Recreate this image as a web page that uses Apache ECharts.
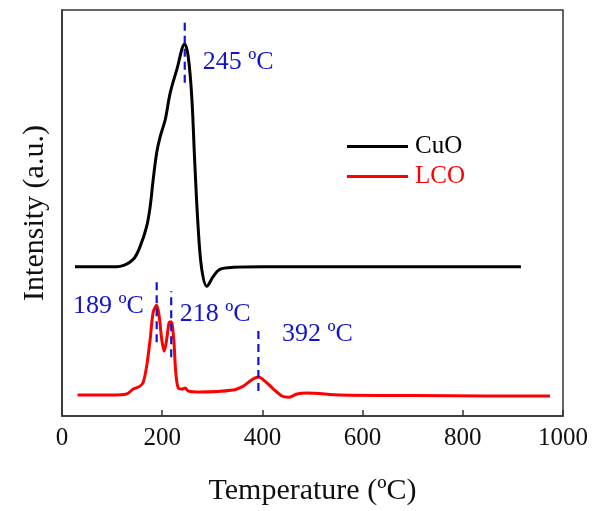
<!DOCTYPE html>
<html>
<head>
<meta charset="utf-8">
<script src="https://cdn.jsdelivr.net/npm/echarts@6/dist/echarts.min.js"></script>
<style>
html,body{margin:0;padding:0;background:#fff;}
#chart{width:599px;height:511px;}
</style>
</head>
<body>
<div id="chart"></div>
<script>
// CuO profile: [temperature (ºC), intensity (a.u.)]
const cuoTemp = [26, 100, 116, 142, 156, 169, 176, 182, 189, 196, 206, 216, 229, 245, 252, 259, 265, 272, 279, 289, 302, 315, 342, 400, 600, 800, 916];
const cuoVal  = [149.5, 149.5, 150, 157, 170, 190, 210, 237, 264, 280, 297, 324, 347, 373, 360, 320, 254, 187, 147, 130, 140, 147, 149, 149.5, 149.5, 149.5, 149.5];

// LCO profile
const lcoTemp = [31, 100, 129, 142, 155, 162, 169, 176, 182, 189, 194, 199, 204, 209, 214, 218, 223, 227, 232, 239, 246, 252, 275, 341, 362, 378, 392, 405, 422, 439, 452, 469, 489, 555, 700, 850, 974];
const lcoVal  = [21, 21, 22, 27, 29.7, 33.7, 50, 77, 104, 111, 100, 77, 65, 77, 94, 94.5, 77, 44, 28, 27, 28, 25, 24, 26, 30, 36, 39, 35, 27, 20, 18.7, 22, 23, 21, 20.5, 20, 20];

// Peak annotations
const peakTemps   = [245, 189, 218, 392];
const peakTop     = [399, 138, 125, 90];
const peakBottom  = [334, 74, 59, 25];
const peakLabels  = ['245 ºC', '189 ºC', '218 ºC', '392 ºC'];
const labelTemp   = [281, 22, 235, 439];
const labelVal    = [355, 110, 102, 82];

const xTicks = [0, 200, 400, 600, 800, 1000];

const FONT = "'Liberation Serif', 'Times New Roman', serif";
const BLUE = '#1414cc';

const zip = (a, b) => a.map((v, i) => [v, b[i]]);

const series = [
  {
    name: 'CuO', type: 'line', data: zip(cuoTemp, cuoVal), smooth: 0.35,
    showSymbol: false, lineStyle: { color: '#000', width: 3 }, itemStyle: { color: '#000' }, z: 3
  },
  {
    name: 'LCO', type: 'line', data: zip(lcoTemp, lcoVal), smooth: 0.3,
    showSymbol: false, lineStyle: { color: '#ff0000', width: 3 }, itemStyle: { color: '#ff0000' }, z: 3
  }
];

peakTemps.forEach((t, i) => {
  series.push({
    name: 'peak' + i, type: 'line', data: [[t, peakBottom[i]], [t, peakTop[i]]],
    showSymbol: false, silent: true,
    lineStyle: { color: BLUE, width: 2.2, type: [8, 5], opacity: 1 }, z: 4
  });
});

series.push({
  name: 'labels', type: 'scatter', symbolSize: 0, silent: true,
  itemStyle: { opacity: 1, color: BLUE },
  data: labelTemp.map((t, i) => ({ value: [t, labelVal[i]], label: { formatter: peakLabels[i] } })),
  label: {
    show: true, position: 'right', distance: 0, opacity: 1,
    color: BLUE, fontFamily: FONT, fontSize: 26
  }
});

const chart = echarts.init(document.getElementById('chart'));
chart.setOption({
  animation: false,
  backgroundColor: '#fff',
  grid: { left: 62, right: 36, top: 10, bottom: 94, show: true, borderColor: '#333', borderWidth: 1.5 },
  legend: {
    data: [
      { name: 'CuO', textStyle: { color: '#000' } },
      { name: 'LCO', textStyle: { color: '#ff0000' } }
    ],
    orient: 'vertical', left: 342, top: 129,
    icon: 'rect', itemWidth: 61, itemHeight: 3, itemGap: 5,
    textStyle: { fontFamily: FONT, fontSize: 25, lineHeight: 25, padding: [0, 0, 0, 2] }
  },
  xAxis: {
    type: 'value', min: 0, max: 1000, interval: 200,
    name: 'Temperature (ºC)', nameLocation: 'middle', nameGap: 60,
    nameTextStyle: { fontFamily: FONT, fontSize: 30, color: '#111' },
    axisLine: { show: true, lineStyle: { color: '#333', width: 1.5 } },
    axisTick: { show: true, inside: true, length: 6, lineStyle: { color: '#333', width: 1.5 } },
    axisLabel: {
      fontFamily: FONT, fontSize: 25, color: '#111', margin: 10,
      formatter: v => xTicks.includes(v) ? String(v) : ''
    },
    splitLine: { show: false }
  },
  yAxis: {
    type: 'value', min: 0, max: 407,
    name: 'Intensity (a.u.)', nameLocation: 'middle', nameGap: 12,
    nameTextStyle: { fontFamily: FONT, fontSize: 30, color: '#111' },
    axisLine: { show: true, lineStyle: { color: '#333', width: 1.5 } },
    axisTick: { show: false },
    axisLabel: { show: false },
    splitLine: { show: false }
  },
  series: series
});
</script>
</body>
</html>
